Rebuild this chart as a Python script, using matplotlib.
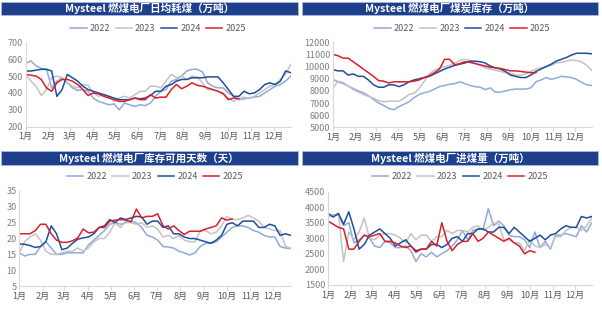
import numpy as np
import matplotlib.pyplot as plt
from matplotlib.patches import Rectangle

plt.rcParams['font.family'] = ['Noto Sans CJK SC', 'DejaVu Sans']

years = ['2022', '2023', '2024', '2025']
colors = ['#8FAADC', '#C3C3C3', '#1F4E9A', '#D9202A']
month_days = [0, 31, 59, 90, 120, 151, 181, 212, 243, 273, 304, 334]
month_labels = ['%d月' % m for m in range(1, 13)]

# 日均耗煤（万吨），周度
coal_use_2022 = [575, 590, 560, 545, 540, 430, 470, 490, 460, 430, 415, 420, 410, 370, 350, 340, 330, 335,
                 300, 340, 330, 320, 330, 325, 340, 380, 410, 420, 470, 480, 500, 530, 540, 540, 525, 460,
                 440, 430, 430, 400, 380, 360, 365, 370, 375, 380, 400, 420, 440, 450, 470, 500]
coal_use_2023 = [510, 470, 440, 385, 420, 490, 500, 490, 460, 440, 430, 450, 445, 400, 380, 390, 380, 350,
                 370, 380, 370, 390, 410, 410, 440, 440, 430, 470, 510, 490, 500, 480, 500, 495, 460, 420,
                 420, 410, 400, 370, 350, 370, 375, 370, 380, 400, 420, 440, 450, 480, 510, 570]
coal_use_2024 = [530, 530, 535, 540, 540, 530, 380, 420, 510, 490, 470, 440, 420, 410, 400, 390, 380, 370,
                 360, 360, 360, 370, 365, 370, 385, 410, 410, 440, 450, 470, 480, 480, 490, 490, 490, 495,
                 495, 495, 460, 420, 380, 380, 410, 395, 400, 420, 450, 460, 450, 470, 530, 520]
coal_use_2025 = [510, 505, 500, 480, 430, 410, 460, 480, 480, 470, 450, 420, 385, 400, 395, 380, 370, 360,
                 350, 350, 360, 370, 360, 360, 390, 370, 375, 375, 420, 450, 425, 440, 460, 445, 440, 430,
                 420, 410, 395, 360, 370, 365]

# 煤炭库存（万吨）
stock_2022 = [8950, 8750, 8600, 8400, 8200, 8000, 7850, 7600, 7300, 7000, 6800, 6550, 6450, 6700, 6900,
              7100, 7450, 7700, 7850, 7950, 8150, 8350, 8450, 8550, 8600, 8750, 8600, 8450, 8350, 8300,
              8100, 8250, 7900, 7900, 8000, 8100, 8150, 8150, 8150, 8250, 8750, 8900, 9100, 8950, 9050,
              9200, 9150, 9100, 8950, 8700, 8500, 8450]
stock_2023 = [8200, 8800, 8700, 8400, 8100, 7900, 7700, 7550, 7400, 7200, 7100, 7150, 7150, 7150, 7400,
              7700, 7800, 8200, 8800, 9400, 9700, 9900, 10000, 10100, 10300, 10500, 10600, 10500, 10300,
              10100, 9900, 9800, 9700, 9600, 9500, 9450, 9300, 9300, 9400, 9600, 9800, 9900, 10000, 10100,
              10300, 10350, 10450, 10550, 10500, 10400, 10100, 9700]
stock_2024 = [9750, 9650, 9650, 9300, 9400, 9200, 9200, 8900, 8500, 8300, 8300, 8500, 8500, 8350, 8500,
              8750, 8900, 9000, 9100, 9200, 9400, 9600, 9800, 9950, 10100, 10200, 10300, 10450, 10450,
              10400, 10300, 10050, 9900, 9800, 9600, 9300, 9200, 9100, 9100, 9300, 9600, 9800, 10000,
              10200, 10450, 10600, 10750, 10950, 11100, 11100, 11100, 11050]
stock_2025 = [11000, 10900, 10700, 10700, 10400, 10100, 9800, 9500, 9200, 8850, 8800, 8650, 8750, 8750,
              8750, 8750, 8800, 8900, 9100, 9250, 9500, 9800, 10600, 10600, 10150, 10250, 10400, 10350,
              10250, 10150, 10050, 9950, 9900, 9850, 9750, 9650, 9650, 9600, 9550, 9500, 9500]

# 库存可用天数（天）
days_2022 = [15.5, 14.5, 15, 15, 17.5, 19, 17, 15, 15, 15.5, 15.5, 15.5, 15.5, 18, 19.5, 21, 22.5, 24.5,
             25, 24.5, 25, 25.5, 25, 23.5, 21, 20.5, 19.5, 17.5, 17.3, 17, 16, 15.5, 14.8, 15.5, 17.5,
             18.5, 18.5, 19, 20.5, 22, 23.5, 24, 24, 23.5, 22.5, 22, 21, 20.5, 20.5, 17.5, 17, 16.8]
days_2023 = [15.5, 19, 20.5, 21.5, 19.5, 16, 15, 15, 15.5, 16, 16, 17, 16, 17, 19, 20, 20, 22, 25, 23.5,
             25.5, 25, 24.5, 25, 23.5, 24, 23, 20.5, 21, 20, 21, 19.5, 19, 19, 22.5, 22.5, 21.5, 22, 24,
             27, 26, 26, 26.5, 27.3, 26.5, 25.5, 23.5, 23, 22.5, 22.5, 17.5, 17]
days_2024 = [18.3, 18.2, 17.8, 17.2, 17.5, 19, 24, 21.5, 16.5, 17, 18.5, 19.8, 20.2, 20.5, 21.5, 23.5, 24,
             26, 25, 26.5, 26, 26.5, 27, 26.8, 24.5, 25.5, 25.5, 23.5, 24, 21.5, 21.5, 20.5, 20, 20, 19.5,
             19, 18.5, 19.5, 21, 24.5, 25, 24, 25.5, 25.5, 25.5, 23.5, 23.5, 24.5, 24, 21, 21.5, 21]
days_2025 = [21.5, 21.5, 21.5, 22.5, 24.5, 24.5, 21.5, 19.5, 18.8, 18.8, 19.3, 20.2, 23, 21.8, 22, 23.5,
             23.5, 25.5, 25.8, 26, 25.8, 25.3, 29.3, 26.5, 27, 27, 27.8, 24, 23, 24, 22.5, 21.3, 22.3, 22.3,
             22.3, 23, 23.5, 24, 26.5, 25.8, 26.2]

# 进煤量（万吨）
intake_2022 = [3700, 3750, 3750, 3400, 3500, 2850, 2950, 3100, 3000, 2750, 2700, 2900, 2850, 2700, 2700,
               2750, 2600, 2250, 2500, 2400, 2550, 2400, 2500, 2600, 2750, 2950, 3250, 2950, 3250, 3300,
               3300, 3950, 3400, 3550, 3400, 3100, 3050, 3050, 2950, 2700, 3200, 2700, 2900, 2650, 3100,
               3100, 3150, 3100, 3050, 3400, 3200, 3500]
intake_2023 = [3750, 3700, 3800, 2250, 3200, 2950, 3200, 3650, 3000, 2950, 3100, 3150, 3150, 3100, 3000,
               2850, 3150, 2950, 3100, 3100, 2900, 3050, 3050, 3250, 3150, 3250, 3250, 3200, 3350, 3400,
               3250, 3350, 3500, 3450, 2950, 2950, 2850, 2850, 2600, 2950, 2750, 2700, 2800, 2700, 3050,
               3050, 3250, 3350, 3350, 3250, 3400, 3650]
intake_2024 = [3800, 3680, 3800, 3450, 3850, 3300, 2650, 2800, 3100, 3200, 3300, 3150, 3000, 2750, 2850,
               2950, 2750, 2600, 2650, 2650, 2800, 2800, 2700, 2800, 3000, 3050, 2900, 3150, 3150, 3300,
               3300, 3200, 3200, 3350, 3350, 3150, 3350, 3200, 3050, 2900, 3000, 3100, 2950, 3100, 3150,
               3300, 3400, 3350, 3350, 3700, 3650, 3700]
intake_2025 = [3550, 3450, 3350, 3300, 2650, 2650, 2900, 3100, 3050, 3100, 3150, 2900, 2900, 2850, 2750,
               2700, 2750, 2550, 2650, 2650, 2900, 2750, 3500, 2900, 2600, 2800, 2900, 2900, 3150, 2900,
               3000, 3200, 3100, 3000, 2900, 3000, 2850, 2750, 2500, 2600, 2550]

panels = [
    ('Mysteel 燃煤电厂日均耗煤（万吨）', [coal_use_2022, coal_use_2023, coal_use_2024, coal_use_2025],
     (200, 700, 100), [0.0427, 0.590, 0.4403, 0.273], (0.001, 0.950, 0.494)),
    ('Mysteel 燃煤电厂煤炭库存（万吨）', [stock_2022, stock_2023, stock_2024, stock_2025],
     (5000, 12000, 1000), [0.553, 0.588, 0.430, 0.275], (0.501, 0.950, 0.493)),
    ('Mysteel 燃煤电厂库存可用天数（天）', [days_2022, days_2023, days_2024, days_2025],
     (5, 35, 5), [0.032, 0.074, 0.451, 0.308], (0.001, 0.465, 0.494)),
    ('Mysteel 燃煤电厂进煤量（万吨）', [intake_2022, intake_2023, intake_2024, intake_2025],
     (1500, 4500, 500), [0.545, 0.078, 0.438, 0.302], (0.501, 0.465, 0.493)),
]

fig = plt.figure(figsize=(6.02, 3.09), dpi=100)
fig.patch.set_facecolor('white')

for title, series, (ymin, ymax, step), rect, (bx, by, bw) in panels:
    fig.patches.append(Rectangle((bx, by), bw, 0.045, transform=fig.transFigure,
                                 facecolor='#1E3F8C', edgecolor='#A9BBDD', lw=0.6))
    fig.text(bx + bw / 2, by + 0.0225, title, color='white', fontsize=7.6, fontweight='bold',
             ha='center', va='center')

    ax = fig.add_axes(rect)
    for vals, yr, c in zip(series, years, colors):
        x = np.arange(len(vals)) * 7
        ax.plot(x, vals, color=c, lw=1.1, label=yr)
    ax.set_xlim(0, 357)
    ax.set_ylim(ymin, ymax)
    ax.set_yticks(np.arange(ymin, ymax + step, step))
    ax.set_xticks(month_days)
    ax.set_xticklabels(month_labels)
    for s in ['top', 'right']:
        ax.spines[s].set_visible(False)
    for s in ['left', 'bottom']:
        ax.spines[s].set_color('#D9D9D9')
    ax.tick_params(axis='y', length=0, labelsize=6.5, labelcolor='#7F7F7F', pad=2)
    ax.tick_params(axis='x', length=3, color='#D9D9D9', labelsize=6.5, labelcolor='#595959', pad=1)
    ax.legend(loc='lower center', bbox_to_anchor=(0.5, 1.07), ncol=4, frameon=False, fontsize=6.5,
              labelcolor='#595959', handlelength=1.8, columnspacing=0.6, handletextpad=0.35,
              borderaxespad=0)

plt.savefig('out.png', dpi=100)
